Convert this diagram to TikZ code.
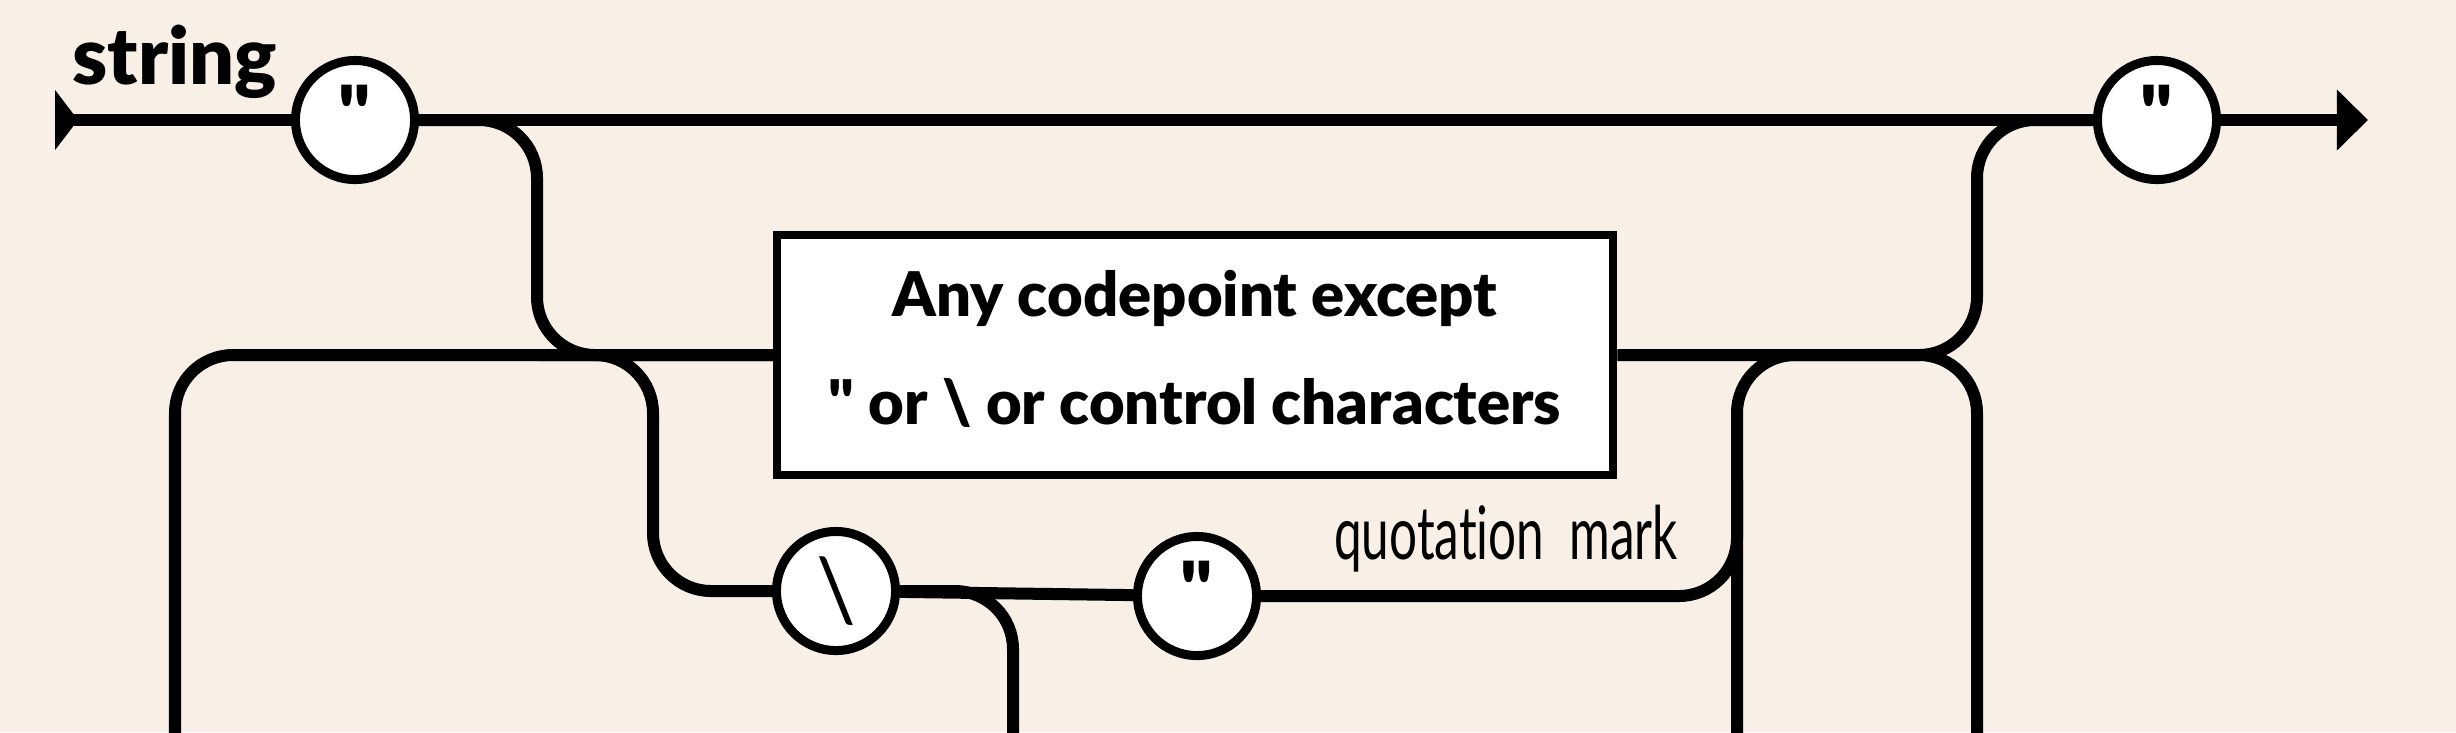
\documentclass[tikz,border=0pt]{standalone}
\usepackage{fontspec}
\setmainfont{Lato}[Ligatures={TeXOff,NoCommon}, BoldFont={Lato Black}]
\newcommand*{\boxfont}{\bfseries\fontsize{17.5}{30.7}\selectfont}
\newcommand*{\notefont}{\fontsize{21}{21}\selectfont}
\newcommand*{\quotemark}{\smash{\raisebox{-6pt}{"}}}
\definecolor{paper}{RGB}{248,239,230}
\usetikzlibrary{arrows.meta}
\tikzstyle{rail}=[line width=0.12cm, rounded corners=0.58cm]
\tikzstyle{terminal}=[circle, draw, fill=white, line width=0.09cm, minimum size=1.19cm, inner sep=0pt, font=\bfseries\fontsize{22}{22}\selectfont]
\tikzstyle{nonterminal}=[rectangle, draw, fill=white, line width=0.08cm, minimum width=8.36cm, minimum height=2.40cm, align=center, font=\boxfont]

\begin{document}
\begin{tikzpicture}[x=0.01cm, y=-0.01cm]
    \path [fill=paper, use as bounding box] (0,0) rectangle (2456,732);
    \node [anchor=base west, font=\bfseries\fontsize{22.5}{22.5}\selectfont] (title) at (60,84) {string};
    % nodes
        \node [terminal] (open) at (355,120) {\quotemark};
        \node [terminal] (close) at (2157,120) {\quotemark};
        \node [nonterminal] (chars) at (1195,355) {Any codepoint except\\" or \textbackslash{} or control characters\rule[-0.16cm]{0pt}{0pt}};
        \node [terminal, font=\fontsize{25}{25}\selectfont] (escape) at (836,591) {\textbackslash};
        \node [terminal] (quote) at (1197,596) {\quotemark};
        \node [anchor=base, font=\notefont] (qlabel) at (1506,559) {\scalebox{0.67}[1]{quotation\ \ mark}};
    % rail points
        \coordinate (in) at (55,120);
        \coordinate (out) at (2368,120);
        \coordinate (splitL) at (537,355);
        \coordinate (colB) at (653,355);
        \coordinate (mergeR) at (1737,480);
        \coordinate (splitR) at (1977,355);
        \coordinate (loopL) at (175,760);
        \coordinate (dropB) at (1013,760);
        \coordinate (dropC) at (1737,760);
        \coordinate (dropD) at (1977,760);
    % rails
        \draw [rail, {Triangle[reversed, length=0.23cm, width=0.59cm]}-] (in) -- (open);
        \draw [rail] (open) -- (close);
        \draw [rail, -{Triangle[length=0.31cm, width=0.59cm]}] (close) -- (out);
        \draw [rail] (open.east) -| (splitL) -- (chars.west);
        \draw [rail] (loopL) |- (chars.west);
        \draw [rail] (splitL) -- (colB) |- (escape.west);
        \draw [rail] (escape) -- (quote);
        \draw [rail] (escape.east) -| (dropB);
        \draw [rail] (quote.east) -| (mergeR);
        \draw [rail] (dropC) |- (splitR) |- (close.west);
        \draw [rail] (chars.east) -| (dropD);
\end{tikzpicture}
\end{document}
